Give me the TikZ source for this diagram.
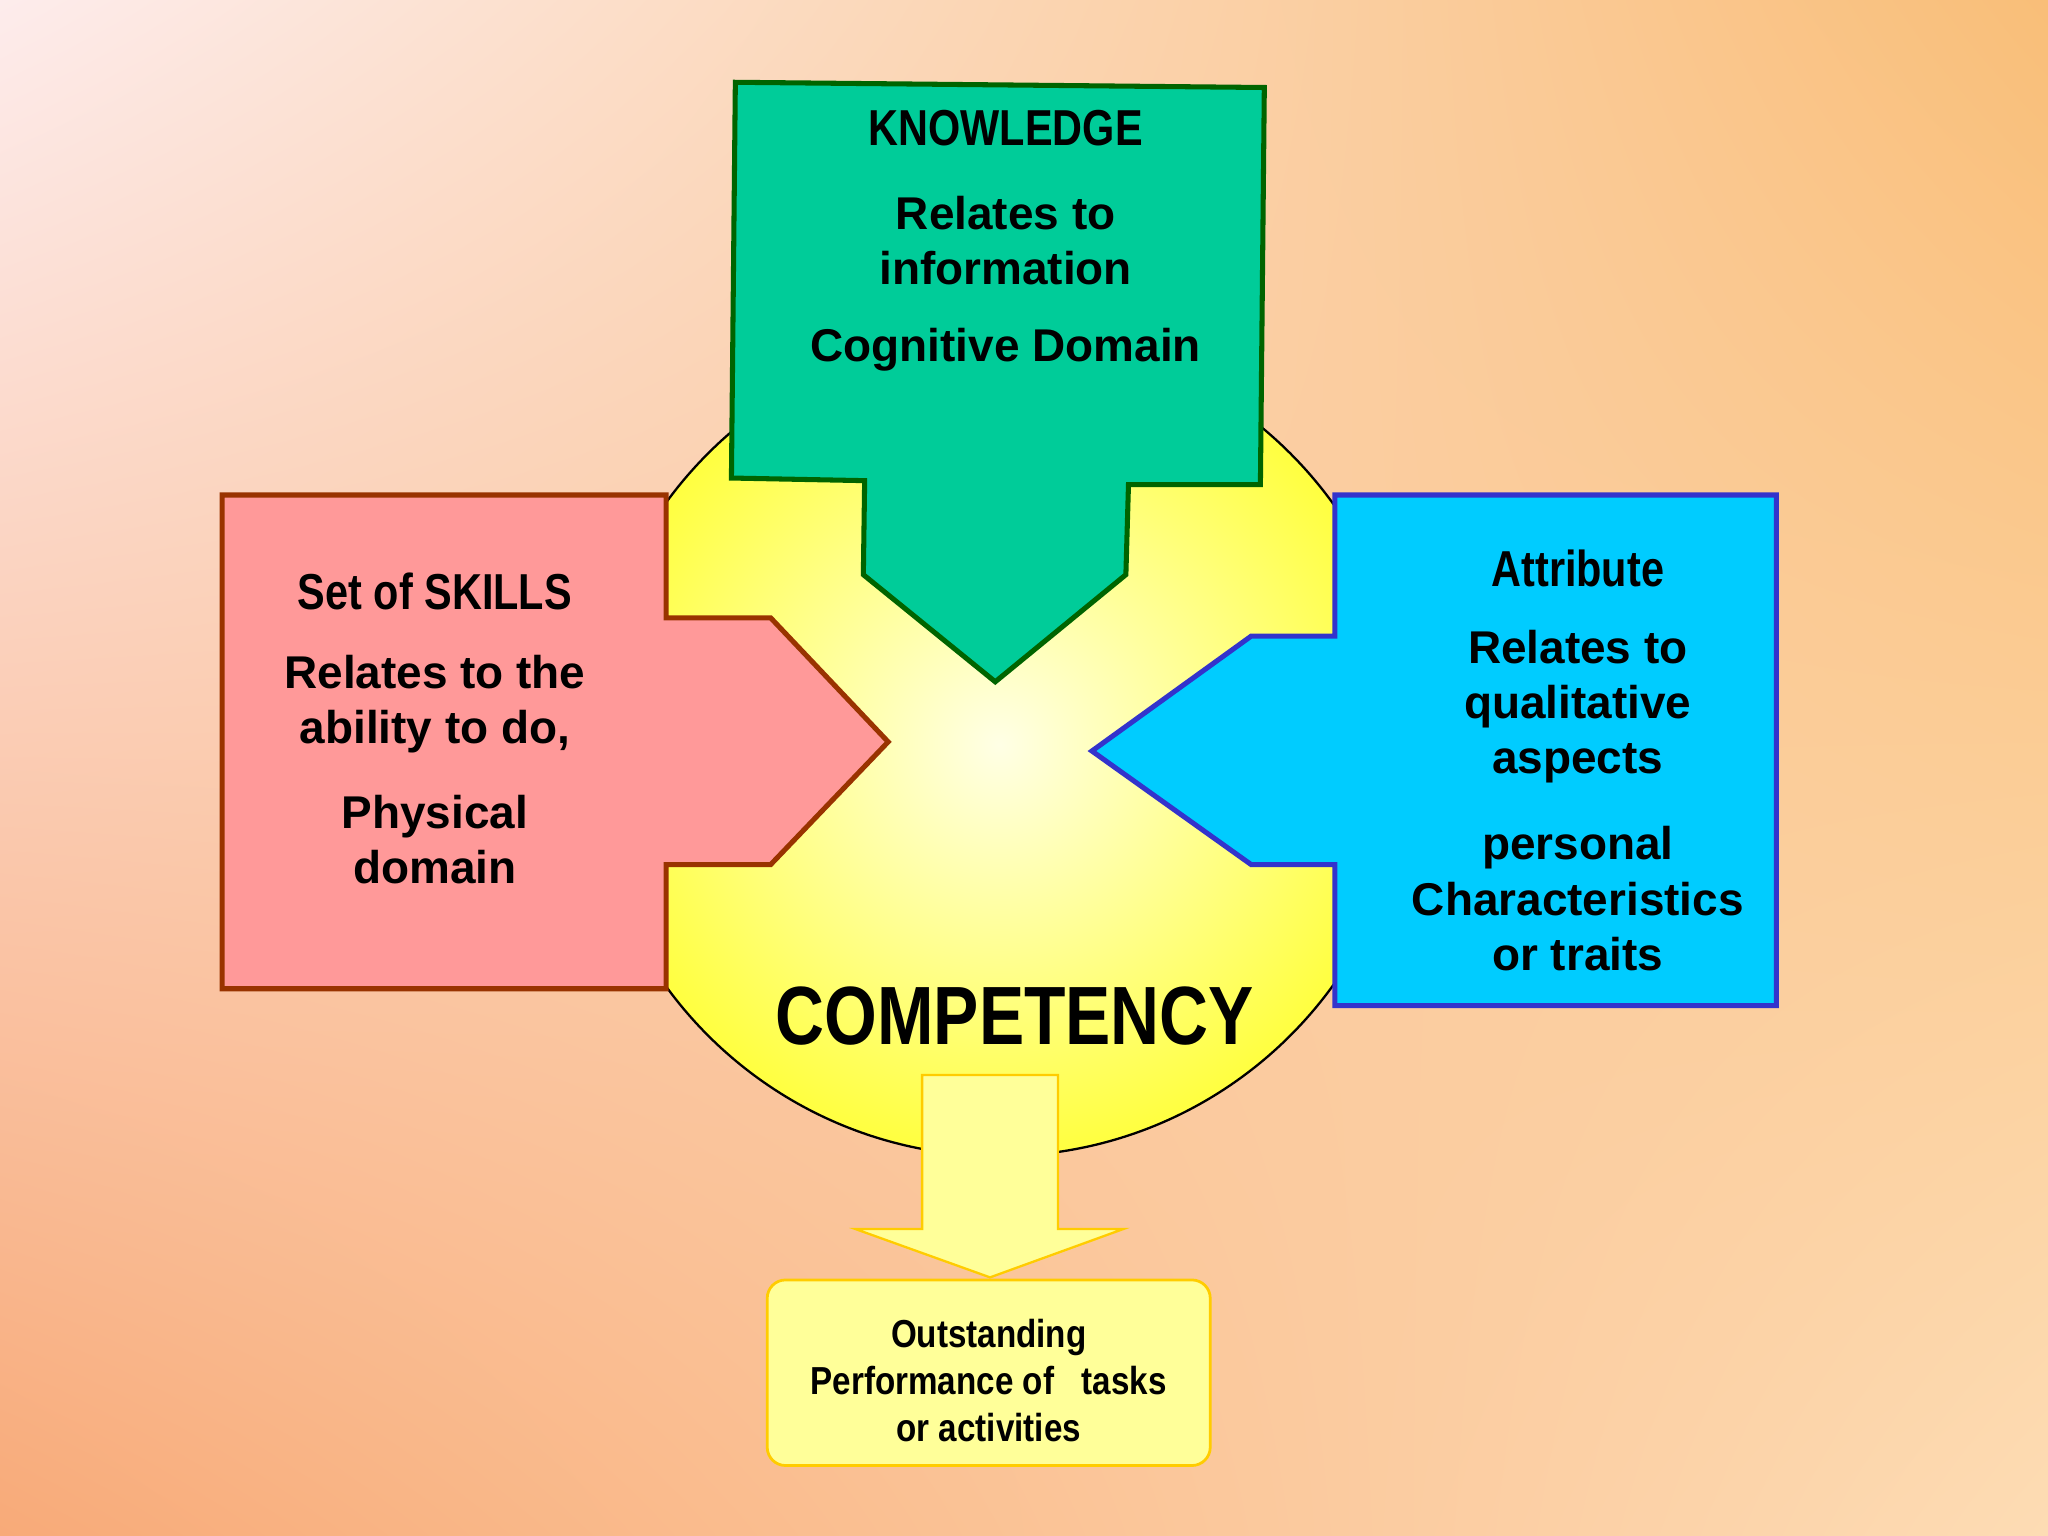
\documentclass[tikz,border=0pt]{standalone}
\usepackage{fontspec}
\setmainfont{Liberation Sans}
\usetikzlibrary{shadings}
\definecolor{kfill}{RGB}{0,204,153}
\definecolor{kdraw}{RGB}{0,100,0}
\definecolor{sfill}{RGB}{255,153,153}
\definecolor{sdraw}{RGB}{153,51,0}
\definecolor{afill}{RGB}{0,204,255}
\definecolor{adraw}{RGB}{51,51,204}
\definecolor{yfill}{RGB}{255,255,153}
\definecolor{ydraw}{RGB}{255,204,0}
\begin{document}
\begin{tikzpicture}[x=0.01cm,y=-0.01cm,
 body/.style={font=\bfseries\fontsize{10}{12}\selectfont,align=center},
 ttl/.style={font=\bfseries\fontsize{11}{12}\selectfont,xscale=0.82},
 blk/.style={line width=1.1pt,line join=miter}]
\useasboundingbox (0,0) rectangle (1568,1176);
\shade[upper left={rgb,255:red,253;green,236;blue,236}, upper right={rgb,255:red,249;green,190;blue,120}, lower left={rgb,255:red,248;green,170;blue,120}, lower right={rgb,255:red,253;green,220;blue,180}] (0,0) rectangle (1568,1176);
\node[circle,draw=black,line width=0.5pt,minimum size=6.3cm,inner sep=0pt,inner color=yellow!10!white,outer color=yellow!75!white] (circ) at (765,570) {};
\draw[blk,fill=kfill,draw=kdraw] (563,63) -- (968,67) -- (965,371) -- (864,371) -- (862,440) -- (762,522) -- (661,440) -- (662,368) -- (560,366) -- cycle;
\draw[blk,fill=sfill,draw=sdraw] (170,379) -- (510,379) -- (510,473) -- (590,473) -- (680,568) -- (590,662) -- (510,662) -- (510,757) -- (170,757) -- cycle;
\draw[blk,fill=afill,draw=adraw] (1022,379) -- (1360,379) -- (1360,770) -- (1022,770) -- (1022,662) -- (958,662) -- (836,575) -- (958,487) -- (1022,487) -- cycle;
\draw[fill=yfill,draw=ydraw,line width=0.5pt] (706,823) -- (810,823) -- (810,941) -- (860,941) -- (758,978) -- (655,941) -- (706,941) -- cycle;
\node[draw=ydraw,fill=yfill,rounded corners=0.14cm,minimum width=3.39cm,minimum height=1.42cm,inner sep=0pt,line width=0.6pt] (out) at (757,1051) {};
\node[ttl] (k1) at (770,98) {KNOWLEDGE};
\node[body] (k2) at (770,184) {Relates to\\information};
\node[body] (k3) at (770,268) {Cognitive Domain};
\node[ttl] (s1) at (333,453) {Set of SKILLS};
\node[body] (s2) at (333,539) {Relates to the\\ability to do,};
\node[body] (s3) at (333,643) {Physical\\domain};
\node[ttl] (a1) at (1208,435) {Attribute};
\node[body] (a2) at (1208,541) {Relates to\\qualitative\\aspects};
\node[body] (a3) at (1208,688) {personal\\Characteristics\\or traits};
\node[font=\bfseries\fontsize{18}{20}\selectfont,xscale=0.82] (comp) at (777,778) {COMPETENCY};
\node[font=\bfseries\fontsize{8.5}{10.3}\selectfont,xscale=0.85,align=center] (o1) at (757,1057) {Outstanding\\Performance of\ \ \ tasks\\or activities};
\end{tikzpicture}
\end{document}
